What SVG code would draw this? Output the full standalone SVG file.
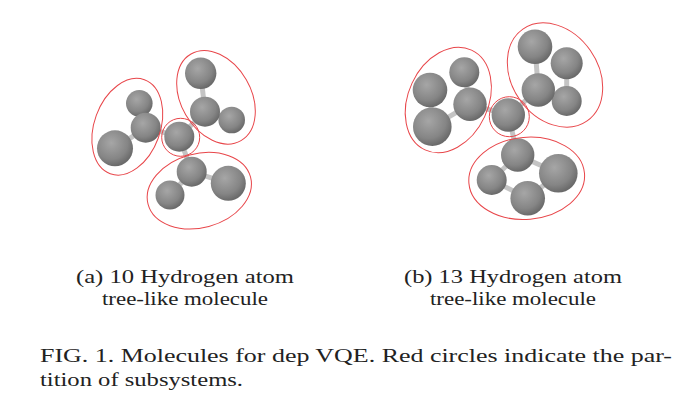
<svg xmlns="http://www.w3.org/2000/svg" width="690" height="410" viewBox="0 0 690 410">
<defs>
<radialGradient id="ball" cx="0.4" cy="0.35" r="0.65">
<stop offset="0" stop-color="#a6a6a6"/><stop offset="0.7" stop-color="#858585"/><stop offset="1" stop-color="#6a6a6a"/>
</radialGradient>
</defs>
<style>
.a{fill:url(#ball)}
.b{stroke:#c4c4c4;stroke-width:5}
.e{fill:none;stroke:#e8464a;stroke-width:1}
.t{font-family:"Liberation Serif",serif;font-size:19px;fill:#222}
</style>
<rect width="690" height="410" fill="#fff"/>
<g id="molecule-a">
<g class="b">
<line x1="200.7" y1="73.3" x2="205" y2="111.7"/><line x1="205" y1="111.7" x2="231.7" y2="120"/>
<line x1="205" y1="111.7" x2="179.3" y2="136.7"/><line x1="139.3" y1="103.3" x2="145.7" y2="127.7"/>
<line x1="145.7" y1="127.7" x2="115" y2="148.3"/><line x1="145.7" y1="127.7" x2="179.3" y2="136.7"/>
<line x1="179.3" y1="136.7" x2="191.7" y2="171.7"/><line x1="191.7" y1="171.7" x2="228.3" y2="183.3"/>
<line x1="191.7" y1="171.7" x2="170" y2="195"/>
</g>
<circle class="a" cx="200.7" cy="73.3" r="15.7"/><circle class="a" cx="231.7" cy="120" r="13.3"/>
<circle class="a" cx="205" cy="111.7" r="15"/><circle class="a" cx="139.3" cy="103.3" r="13.3"/>
<circle class="a" cx="115" cy="148.3" r="18"/><circle class="a" cx="145.7" cy="127.7" r="15"/>
<circle class="a" cx="179.3" cy="136.7" r="15"/><circle class="a" cx="170" cy="195" r="14.5"/>
<circle class="a" cx="228.3" cy="183.3" r="17.5"/><circle class="a" cx="191.7" cy="171.7" r="15"/>
<ellipse class="e" cx="127.3" cy="126.7" rx="33" ry="50" transform="rotate(20 127.3 126.7)"/>
<ellipse class="e" cx="216" cy="97.3" rx="35" ry="50" transform="rotate(-30 216 97.3)"/>
<circle class="e" cx="180.7" cy="137.3" r="19"/>
<ellipse class="e" cx="199.3" cy="190.7" rx="53" ry="37" transform="rotate(-15 199.3 190.7)"/>
</g>
<g id="molecule-b">
<g class="b">
<line x1="464.3" y1="72.3" x2="470" y2="104.3"/><line x1="430" y1="90" x2="432.3" y2="126.7"/>
<line x1="470" y1="104.3" x2="432.3" y2="126.7"/><line x1="470" y1="104.3" x2="508.3" y2="115"/>
<line x1="535" y1="46.7" x2="538.3" y2="90"/><line x1="566.7" y1="63.3" x2="566.7" y2="101"/>
<line x1="538.3" y1="90" x2="566.7" y2="101"/><line x1="538.3" y1="90" x2="508.3" y2="115"/>
<line x1="508.3" y1="115" x2="517.7" y2="155"/><line x1="517.7" y1="155" x2="558.3" y2="173.3"/>
<line x1="491.7" y1="180" x2="527.7" y2="198.3"/><line x1="558.3" y1="173.3" x2="527.7" y2="198.3"/>
<line x1="517.7" y1="155" x2="491.7" y2="180"/>
</g>
<circle class="a" cx="430" cy="90" r="17.3"/><circle class="a" cx="464.3" cy="72.3" r="15"/>
<circle class="a" cx="432.3" cy="126.7" r="19.3"/><circle class="a" cx="470" cy="104.3" r="16.7"/>
<circle class="a" cx="508.3" cy="115" r="16.7"/>
<circle class="a" cx="566.7" cy="63.3" r="16"/><circle class="a" cx="566.7" cy="101" r="15"/>
<circle class="a" cx="535" cy="46.7" r="17.3"/><circle class="a" cx="538.3" cy="90" r="16.7"/>
<circle class="a" cx="517.7" cy="155" r="16.7"/><circle class="a" cx="491.7" cy="180" r="15"/>
<circle class="a" cx="558.3" cy="173.3" r="19.3"/><circle class="a" cx="527.7" cy="198.3" r="17.3"/>
<ellipse class="e" cx="448.3" cy="100" rx="40" ry="55" transform="rotate(25 448.3 100)"/>
<ellipse class="e" cx="555" cy="75" rx="43" ry="56" transform="rotate(-35 555 75)"/>
<circle class="e" cx="509.3" cy="116.7" r="20"/>
<ellipse class="e" cx="526.7" cy="178.3" rx="58" ry="41" transform="rotate(-5 526.7 178.3)"/>
</g>
<g id="captions">
<text class="t" x="185" y="283" text-anchor="middle" textLength="218" lengthAdjust="spacingAndGlyphs">(a) 10 Hydrogen atom</text>
<text class="t" x="185" y="305" text-anchor="middle" textLength="166" lengthAdjust="spacingAndGlyphs">tree-like molecule</text>
<text class="t" x="513" y="283" text-anchor="middle" textLength="218" lengthAdjust="spacingAndGlyphs">(b) 13 Hydrogen atom</text>
<text class="t" x="513" y="305" text-anchor="middle" textLength="166" lengthAdjust="spacingAndGlyphs">tree-like molecule</text>
<text class="t" x="40" y="362" textLength="632" lengthAdjust="spacingAndGlyphs">FIG. 1. Molecules for dep VQE. Red circles indicate the par-</text>
<text class="t" x="40" y="386" textLength="203" lengthAdjust="spacingAndGlyphs">tition of subsystems.</text>
</g>
</svg>
